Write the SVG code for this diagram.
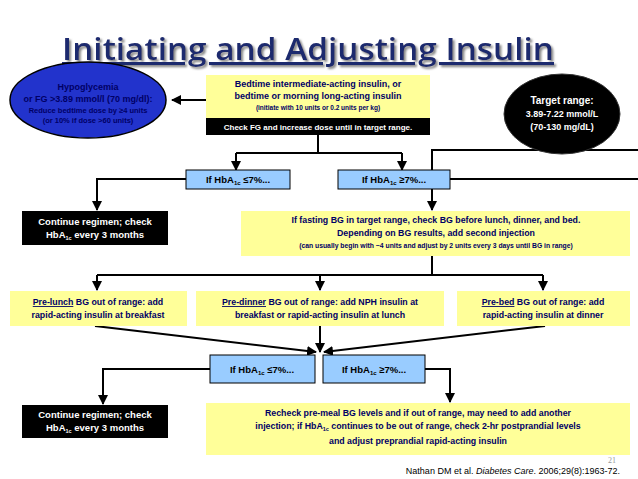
<svg xmlns="http://www.w3.org/2000/svg" width="638" height="479" viewBox="0 0 638 479">
<defs>
<marker id="ah" markerWidth="10" markerHeight="10" refX="9" refY="5" orient="auto" markerUnits="userSpaceOnUse"><path d="M0,0 L10,5 L0,10 Z" fill="#000"/></marker>
<filter id="sh" x="-5%" y="-20%" width="110%" height="140%"><feDropShadow dx="2" dy="2" stdDeviation="0.8" flood-color="#888"/></filter>
<style>
text{font-family:"Liberation Sans",Arial,sans-serif;font-weight:bold;text-anchor:middle}
.yel{fill:#ffff99}
.blu{fill:#99ccff;stroke:#000;stroke-width:1}
.blk{fill:#000}
.nv{fill:#000066}
.w{fill:#fff}
.c line,.c polyline{stroke:#000;stroke-width:2;fill:none;marker-end:url(#ah)}
.c .n{marker-end:none}
</style>
</defs>
<rect width="638" height="479" fill="#fff"/>
<text x="308" y="60" filter="url(#sh)" style="font-family:'Open Sans','Liberation Sans',sans-serif;font-weight:600;font-size:31px;fill:#1f2a6e;text-decoration:underline" textLength="492" lengthAdjust="spacingAndGlyphs">Initiating and Adjusting Insulin</text>

<g class="c">
<line x1="206" y1="100" x2="172" y2="100"/>
<polyline class="n" points="318,135 318,153"/>
<polyline points="236,153 236,170" />
<polyline points="402,153 402,170"/>
<polyline class="n" points="236,153 402,153"/>
<polyline points="186,179 97,179 97,210"/>
<polyline class="n" points="450,179 638,179"/>
<polyline points="638,150 432,150 432,210"/>
<polyline class="n" points="432,256 432,275"/>
<polyline class="n" points="97,275 543,275"/>
<line x1="97" y1="275" x2="97" y2="290"/>
<line x1="320" y1="275" x2="320" y2="290"/>
<line x1="543" y1="275" x2="543" y2="290"/>
<line x1="95" y1="326" x2="316" y2="352"/>
<line x1="320" y1="326" x2="320" y2="352"/>
<line x1="545" y1="326" x2="324" y2="352"/>
<polyline points="210,369 103,369 103,404"/>
<polyline points="425,369 450,369 450,402"/>
</g>

<g id="hypo">
<ellipse cx="88" cy="100" rx="78" ry="38" fill="#2233cc" stroke="#000" stroke-width="1.5"/>
<text x="88" y="90" class="nv" font-size="9">Hypoglycemia</text>
<text x="88" y="102" class="nv" font-size="9">or FG &gt;3.89 mmol/l (70 mg/dl):</text>
<text x="88" y="113" class="nv" font-size="7.5">Reduce bedtime dose by ≥4 units</text>
<text x="88" y="123" class="nv" font-size="7.5">(or 10% if dose &gt;60 units)</text>
</g>

<g id="start">
<rect x="206" y="75" width="224" height="44" class="yel"/>
<rect x="206" y="118" width="224" height="17" class="blk"/>
<text x="318" y="87" class="nv" font-size="9">Bedtime intermediate-acting insulin, or</text>
<text x="318" y="99" class="nv" font-size="9">bedtime or morning long-acting insulin</text>
<text x="318" y="110" class="nv" font-size="6.5">(initiate with 10 units or 0.2 units per kg)</text>
<text x="318" y="130" class="w" font-size="8">Check FG and increase dose until in target range.</text>
</g>

<g id="target">
<ellipse cx="562" cy="114" rx="58" ry="40" fill="#000" stroke="#333"/>
<text x="562" y="104" class="w" font-size="10">Target range:</text>
<text x="562" y="117" class="w" font-size="9">3.89-7.22 mmol/L</text>
<text x="562" y="130" class="w" font-size="9">(70-130 mg/dL)</text>
</g>

<g id="le1">
<rect x="186" y="170" width="104" height="19" class="blu"/>
<text x="238" y="183" font-size="9.5">If HbA<tspan font-size="6" dy="2">1c</tspan><tspan dy="-2"> ≤7%...</tspan></text>
</g>
<g id="ge1">
<rect x="338" y="170" width="112" height="19" class="blu"/>
<text x="394" y="183" font-size="9.5">If HbA<tspan font-size="6" dy="2">1c</tspan><tspan dy="-2"> ≥7%...</tspan></text>
</g>

<g id="cont1">
<rect x="22" y="211" width="146" height="34" class="blk"/>
<text x="95" y="225" class="w" font-size="9.5">Continue regimen; check</text>
<text x="95" y="238" class="w" font-size="9.5">HbA<tspan font-size="5.5" dy="2">1c</tspan><tspan dy="-2"> every 3 months</tspan></text>
</g>

<g id="fasting">
<rect x="241" y="211" width="389" height="45" class="yel"/>
<text x="436" y="223" class="nv" font-size="8.8">If fasting BG in target range, check BG before lunch, dinner, and bed.</text>
<text x="436" y="236" class="nv" font-size="8.8">Depending on BG results, add second injection</text>
<text x="436" y="248" class="nv" font-size="6.8">(can usually begin with ~4 units and adjust by 2 units every 3 days until BG in range)</text>
</g>

<g id="prelunch">
<rect x="10" y="291" width="177" height="35" class="yel"/>
<text x="98" y="305" class="nv" font-size="8.8"><tspan text-decoration="underline">Pre-lunch</tspan> BG out of range: add</text>
<text x="98" y="318" class="nv" font-size="8.8">rapid-acting insulin at breakfast</text>
</g>
<g id="predinner">
<rect x="196" y="291" width="248" height="35" class="yel"/>
<text x="320" y="305" class="nv" font-size="8.8"><tspan text-decoration="underline">Pre-dinner</tspan> BG out of range: add NPH insulin at</text>
<text x="320" y="318" class="nv" font-size="8.8">breakfast or rapid-acting insulin at lunch</text>
</g>
<g id="prebed">
<rect x="457" y="291" width="173" height="35" class="yel"/>
<text x="543" y="305" class="nv" font-size="8.8"><tspan text-decoration="underline">Pre-bed</tspan> BG out of range: add</text>
<text x="543" y="318" class="nv" font-size="8.8">rapid-acting insulin at dinner</text>
</g>

<g id="le2">
<rect x="210" y="355" width="105" height="28" class="blu"/>
<text x="262" y="373" font-size="9.5">If HbA<tspan font-size="6" dy="2">1c</tspan><tspan dy="-2"> ≤7%...</tspan></text>
</g>
<g id="ge2">
<rect x="323" y="355" width="102" height="28" class="blu"/>
<text x="374" y="373" font-size="9.5">If HbA<tspan font-size="6" dy="2">1c</tspan><tspan dy="-2"> ≥7%...</tspan></text>
</g>

<g id="cont2">
<rect x="22" y="405" width="146" height="33" class="blk"/>
<text x="95" y="418" class="w" font-size="9.5">Continue regimen; check</text>
<text x="95" y="431" class="w" font-size="9.5">HbA<tspan font-size="5.5" dy="2">1c</tspan><tspan dy="-2"> every 3 months</tspan></text>
</g>

<g id="recheck">
<rect x="206" y="403" width="424" height="52" class="yel"/>
<text x="418" y="416" class="nv" font-size="8.8">Recheck pre-meal BG levels and if out of range, may need to add another</text>
<text x="418" y="429" class="nv" font-size="8.8">injection; if HbA<tspan font-size="5.5" dy="2">1c</tspan><tspan dy="-2"> continues to be out of range, check 2-hr postprandial levels</tspan></text>
<text x="418" y="444" class="nv" font-size="8.8">and adjust preprandial rapid-acting insulin</text>
</g>

<text x="612" y="463" style="font-family:'Liberation Serif',serif;font-weight:normal;font-size:8px;fill:#999">21</text>
<text x="620" y="474" style="font-weight:normal;font-size:9px;text-anchor:end;fill:#000">Nathan DM et al. <tspan font-style="italic">Diabetes Care</tspan>. 2006;29(8):1963-72.</text>
</svg>
